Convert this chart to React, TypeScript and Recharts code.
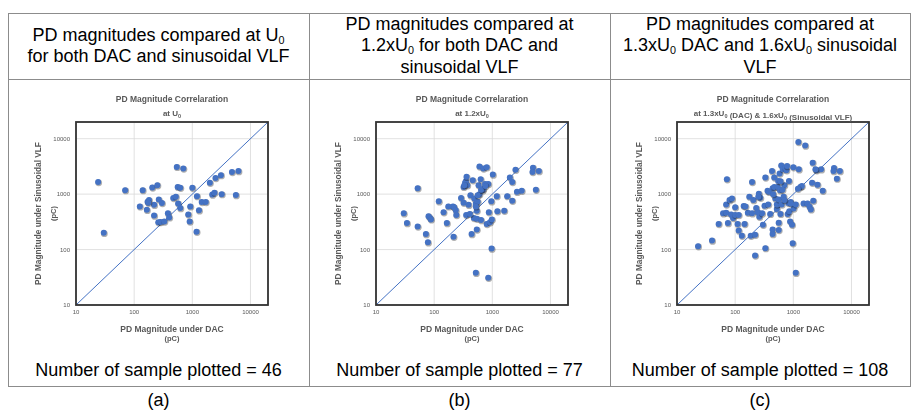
import React from "react"
import {
  ScatterChart,
  Scatter,
  XAxis,
  YAxis,
  CartesianGrid,
  ReferenceLine,
} from "recharts"

// PD magnitude (pC) per sample: DAC on x, sinusoidal VLF on y

// (a) both at U0
const dacU0 = [
  24, 30, 70, 140, 125, 165, 170, 180, 205, 220, 220, 250, 260, 265, 285, 300, 330, 380, 400, 470,
  520, 540, 700, 560, 620, 570, 620, 850, 920, 900, 1000, 1200, 1180, 1300, 1450, 1700, 2000, 2200,
  2400, 2500, 3200, 3100, 4800, 5600, 6200, 175,
]
const vlfU0 = [
  1650, 200, 1180, 1180, 600, 520, 730, 780, 1320, 640, 410, 1450, 310, 800, 315, 690, 320, 450, 380,
  850, 900, 3100, 2900, 1350, 1300, 680, 560, 430, 600, 320, 1300, 920, 210, 510, 720, 720, 1600, 980,
  1060, 1950, 1000, 2200, 2500, 960, 2600, 700,
]

// (b) both at 1.2xU0
const dac12U0 = [
  30, 34, 52, 52, 72, 78, 80, 85, 88, 120, 145, 165, 175, 210, 220, 215, 235, 240, 290, 320, 320, 340,
  350, 360, 370, 355, 390, 420, 440, 460, 480, 490, 520, 540, 520, 540, 540, 560, 580, 600, 600, 630,
  640, 680, 700, 700, 750, 800, 800, 850, 850, 870, 910, 960, 980, 970, 1020, 1190, 1220, 1600, 1800,
  2000, 2200, 2200, 2500, 2650, 3200, 5000, 4900, 5600, 6300, 330, 410, 520, 640, 760, 560,
]
const vlf12U0 = [
  450, 300, 1280, 260, 190, 135, 400, 370, 350, 740, 470, 300, 600, 600, 580, 170, 510, 420, 850, 700,
  1350, 1600, 1700, 2050, 1450, 420, 640, 950, 190, 1780, 370, 830, 680, 500, 38, 230, 360, 730, 1450,
  1000, 3150, 1850, 340, 1170, 2900, 1250, 1530, 3050, 290, 31, 1520, 470, 310, 740, 350, 104, 2250,
  920, 490, 500, 920, 2000, 1650, 760, 2750, 1100, 1150, 3000, 2500, 1200, 2600, 1450, 440, 600, 1200,
  1400, 950,
]

// (c) DAC at 1.3xU0, VLF at 1.6xU0
const dac13U0 = [
  23, 40, 52, 62, 70, 72, 70, 75, 80, 88, 85, 92, 100, 110, 115, 130, 140, 145, 165, 175, 185, 195, 195,
  205, 220, 220, 230, 245, 255, 260, 270, 290, 300, 320, 330, 330, 360, 370, 400, 430, 440, 440, 440,
  470, 470, 490, 520, 520, 540, 550, 560, 560, 560, 580, 590, 600, 620, 630, 660, 680, 700, 720, 760,
  780, 800, 820, 840, 850, 880, 900, 950, 975, 1000, 1010, 1100, 1220, 1240, 1320, 1400, 1500, 1600,
  1750, 1900, 2000, 2100, 2150, 2200, 2500, 2600, 3000, 3200, 5000, 4900, 5600, 6300, 100, 115, 150,
  250, 380, 600, 650, 900, 1100, 1200, 2400, 700, 450,
]
const vlf16U0 = [
  115, 145, 290, 450, 460, 1850, 650, 300, 780, 830, 430, 370, 420, 290, 220, 178, 610, 290, 460, 900,
  178, 450, 1650, 780, 78, 185, 560, 470, 1020, 390, 860, 450, 280, 620, 106, 2000, 1150, 650, 440,
  2600, 1270, 230, 190, 2000, 1340, 830, 540, 650, 1350, 1720, 305, 225, 800, 2350, 1170, 440, 3300,
  650, 2800, 900, 1450, 3000, 2700, 3200, 440, 690, 1720, 490, 320, 720, 280, 130, 3050, 550, 38, 8700,
  2800, 1350, 1400, 680, 7500, 680, 590, 530, 1600, 3700, 760, 2700, 1480, 2800, 1150, 2950, 2600,
  1900, 2600, 580, 420, 600, 900, 1100, 1700, 1200, 680, 650, 1250, 2800, 780, 1000,
]

const logTicks = [10, 100, 1000, 10000]
const axisMin = 10
const axisMax = 20000

const tableFont = '"Liberation Sans", Arial, sans-serif'
const chartFont = '"Liberation Sans", Arial, sans-serif'
const lineColor = "#8c8c8c"
const chartText = "#595959"

// chart frame (plot area inside each 270x260 chart)
const W = 270
const H = 260
const plot = { left: 56, top: 32, width: 192, height: 183 }

const Marker = (props: any) => {
  const { cx, cy } = props
  if (cx == null || cy == null) return null
  return (
    <g>
      <circle cx={cx + 0.6} cy={cy + 0.8} r={3.4} fill="#1a1a1a" fillOpacity={0.35} />
      <circle cx={cx} cy={cy} r={3} fill="#4472C4" />
    </g>
  )
}

const Sub = ({ children }: { children: React.ReactNode }) => (
  <span style={{ fontSize: "0.6em", verticalAlign: "-0.25em", lineHeight: 0 }}>{children}</span>
)

// subscript inside svg text
const SvgSub = ({ t }: { t: string }) => (
  <>
    <tspan fontSize={5.5} dy={2}>
      {t}
    </tspan>
    <tspan dy={-2}>{""}</tspan>
  </>
)

function Panel({
  left,
  dac,
  vlf,
  subtitle,
}: {
  left: number
  dac: number[]
  vlf: number[]
  subtitle: React.ReactNode
}) {
  const data = dac.map((x, i) => ({ dac: x, vlf: vlf[i] }))
  const cx = plot.left + plot.width / 2
  const cy = plot.top + plot.height / 2
  return (
    <div style={{ position: "absolute", left, top: 90, width: W, height: H, filter: "blur(0.3px)" }}>
      <ScatterChart
        width={W}
        height={H}
        margin={{ top: plot.top, right: W - plot.left - plot.width, bottom: 15, left: 0 }}
      >
        <CartesianGrid stroke="#d9d9d9" strokeWidth={0.8} />
        <XAxis
          type="number"
          dataKey="dac"
          scale="log"
          domain={[axisMin, axisMax]}
          ticks={logTicks}
          allowDataOverflow
          axisLine={false}
          tickLine={false}
          tickSize={0}
          tickMargin={5}
          height={30}
          tick={{ fontSize: 6, fill: chartText, fontFamily: chartFont }}
        />
        <YAxis
          type="number"
          dataKey="vlf"
          scale="log"
          domain={[axisMin, axisMax]}
          ticks={logTicks}
          allowDataOverflow
          axisLine={false}
          tickLine={false}
          tickSize={0}
          tickMargin={6}
          width={plot.left}
          tick={{ fontSize: 6, fill: chartText, fontFamily: chartFont }}
        />
        <ReferenceLine
          segment={[
            { x: axisMin, y: axisMin },
            { x: axisMax, y: axisMax },
          ]}
          stroke="#4472C4"
          strokeWidth={1}
        />
        <Scatter data={data} shape={Marker} isAnimationActive={false} />
      </ScatterChart>
      <svg
        width={W}
        height={H}
        style={{ position: "absolute", left: 0, top: 0, pointerEvents: "none" }}
        fontFamily={chartFont}
      >
        <rect
          x={plot.left}
          y={plot.top}
          width={plot.width}
          height={plot.height}
          fill="none"
          stroke="#333333"
          strokeWidth={1.8}
        />
        <g fill={chartText} fontWeight="bold">
          <text x={cx} y={12} fontSize={8.5} fontWeight="bold" textAnchor="middle">
            PD Magnitude Correlaration
          </text>
          <text x={cx} y={26} fontSize={8} fontWeight="bold" textAnchor="middle">
            {subtitle}
          </text>
          <text x={cx} y={242} fontSize={8.5} fontWeight="bold" textAnchor="middle">
            PD Magnitude under DAC
          </text>
          <text x={cx} y={251} fontSize={7.5} fontWeight="bold" textAnchor="middle">
            (pC)
          </text>
          <text
            x={21}
            y={cy}
            fontSize={8.3}
            fontWeight="bold"
            textAnchor="middle"
            transform={`rotate(-90 21 ${cy})`}
          >
            PD Magnitude under Sinusoidal VLF
          </text>
          <text
            x={36}
            y={cy}
            fontSize={7.5}
            fontWeight="bold"
            textAnchor="middle"
            transform={`rotate(-90 36 ${cy})`}
          >
            (pC)
          </text>
        </g>
      </svg>
    </div>
  )
}

const hLine = (top: number) => (
  <div style={{ position: "absolute", left: 8, top, width: 903, height: 1, background: lineColor }} />
)
const vLine = (left: number) => (
  <div style={{ position: "absolute", left, top: 13, width: 1, height: 374, background: lineColor }} />
)

const cols = [8, 309, 610, 910]

const headerCell = (i: number, content: React.ReactNode) => (
  <div
    style={{
      position: "absolute",
      left: cols[i],
      top: 13,
      width: cols[i + 1] - cols[i],
      height: 66,
      display: "flex",
      alignItems: "center",
      justifyContent: "center",
      textAlign: "center",
      fontSize: 18,
      lineHeight: "21.5px",
      whiteSpace: "nowrap",
    }}
  >
    <div>{content}</div>
  </div>
)

const footCell = (i: number, text: string, top: number) => (
  <div
    style={{
      position: "absolute",
      left: cols[i],
      top,
      width: cols[i + 1] - cols[i],
      textAlign: "center",
      fontSize: 18,
      lineHeight: "20px",
    }}
  >
    {text}
  </div>
)

export default function App() {
  return (
    <div
      style={{
        position: "absolute",
        left: 0,
        top: 0,
        width: 920,
        height: 411,
        background: "#fff",
        fontFamily: tableFont,
        color: "#000",
        overflow: "hidden",
      }}
    >
      {hLine(13)}
      {hLine(79)}
      {hLine(386)}
      {vLine(8)}
      {vLine(309)}
      {vLine(610)}
      {vLine(910)}

      {headerCell(
        0,
        <>
          PD magnitudes compared at U<Sub>0</Sub>
          <br />
          for both DAC and sinusoidal VLF
        </>
      )}
      {headerCell(
        1,
        <>
          PD magnitudes compared at
          <br />
          1.2xU<Sub>0</Sub> for both DAC and
          <br />
          sinusoidal VLF
        </>
      )}
      {headerCell(
        2,
        <>
          PD magnitudes compared at
          <br />
          1.3xU<Sub>0</Sub> DAC and 1.6xU<Sub>0</Sub> sinusoidal
          <br />
          VLF
        </>
      )}

      <Panel
        left={20}
        dac={dacU0}
        vlf={vlfU0}
        subtitle={
          <>
            at U<SvgSub t="0" />
          </>
        }
      />
      <Panel
        left={320}
        dac={dac12U0}
        vlf={vlf12U0}
        subtitle={
          <>
            at 1.2xU<SvgSub t="0" />
          </>
        }
      />
      <Panel
        left={621}
        dac={dac13U0}
        vlf={vlf16U0}
        subtitle={
          <>
            at 1.3xU<SvgSub t="0" /> (DAC) &amp; 1.6xU<SvgSub t="0" /> (Sinusoidal VLF)
          </>
        }
      />

      {footCell(0, `Number of sample plotted = ${dacU0.length}`, 360)}
      {footCell(1, `Number of sample plotted = ${dac12U0.length}`, 360)}
      {footCell(2, `Number of sample plotted = ${dac13U0.length}`, 360)}

      {footCell(0, "(a)", 390)}
      {footCell(1, "(b)", 390)}
      {footCell(2, "(c)", 390)}
    </div>
  )
}
